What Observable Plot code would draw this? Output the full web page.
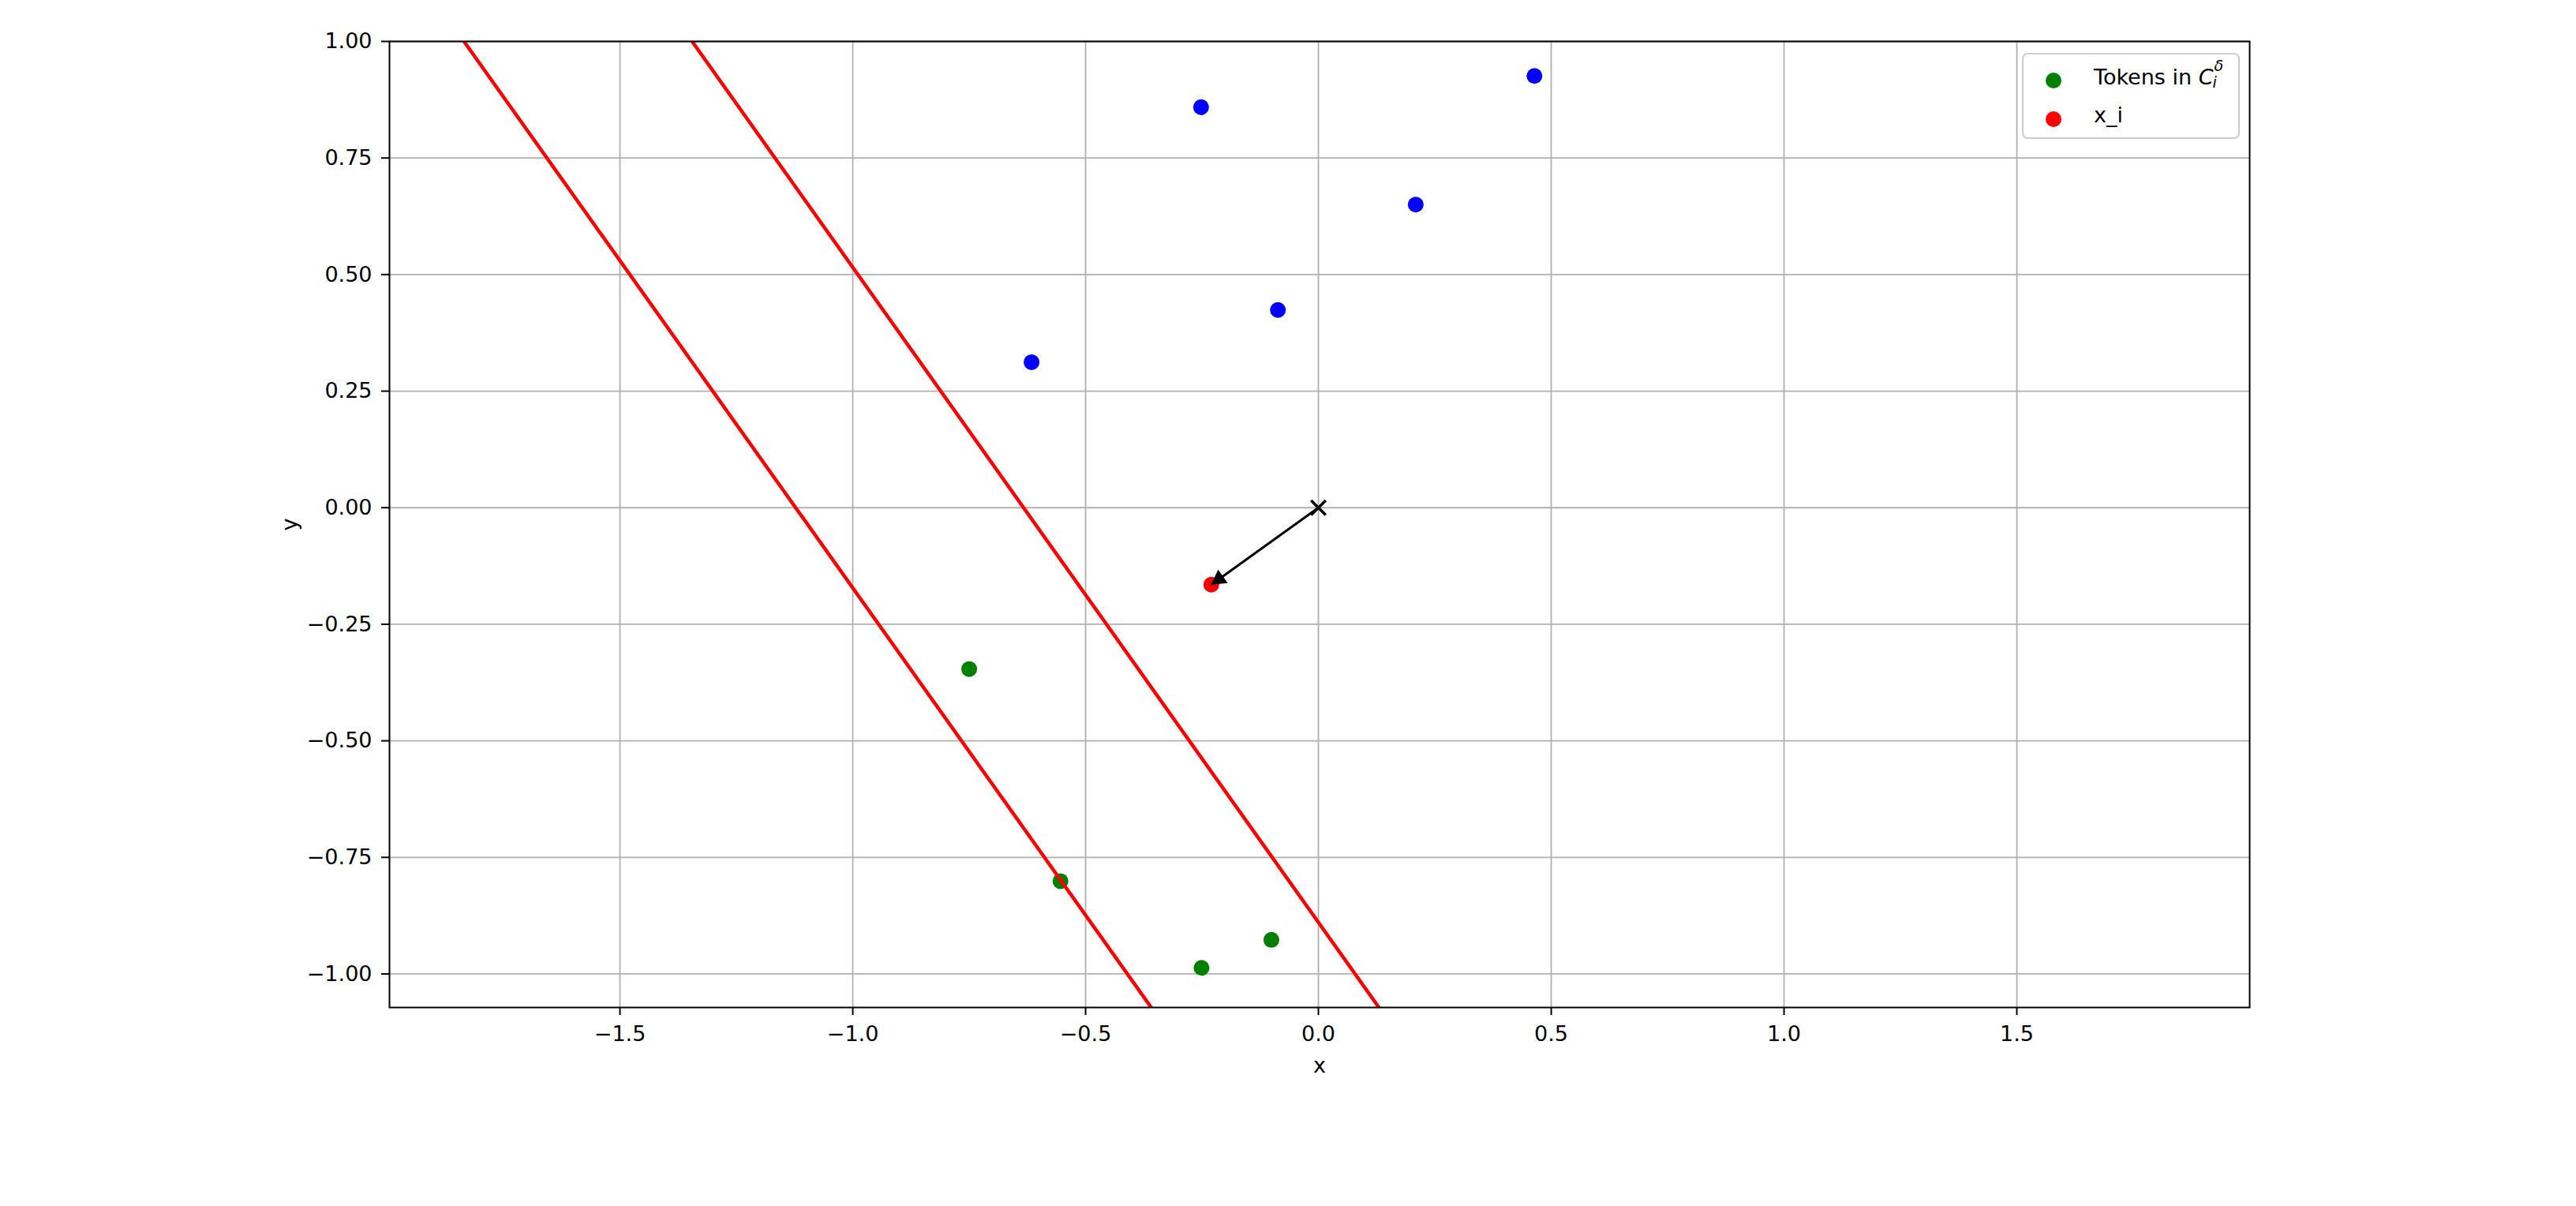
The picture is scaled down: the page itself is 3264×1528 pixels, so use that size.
<!DOCTYPE html>
<html>
<head>
<meta charset="utf-8">
<script src="https://cdn.jsdelivr.net/npm/d3@7"></script>
<script src="https://cdn.jsdelivr.net/npm/@observablehq/plot@0.6"></script>
<style>
  html, body { margin: 0; padding: 0; background: #ffffff; overflow: hidden; }
  #fig { position: relative; width: 3264px; height: 1528px; font-family: "DejaVu Sans", sans-serif; color: #000; }
  #fig svg { display: block; }
  #legend { position: absolute; left: 2562px; top: 67px; width: 276px; height: 109px; box-sizing: border-box;
            border: 2px solid #cccccc; border-radius: 7px; background: rgba(255,255,255,0.8);
            font-family: "DejaVu Sans", sans-serif; font-size: 27px; line-height: 1; }
  .sw { position: absolute; width: 20px; height: 20px; border-radius: 50%; left: 28px; }
  .lab { position: absolute; left: 89px; white-space: nowrap; }
  .ss { display: inline-block; position: relative; width: 16px; height: 1em; vertical-align: baseline; }
  .sup { position: absolute; left: 1px; top: -6px; font-size: 19px; font-style: italic; }
  .sub { position: absolute; left: -1px; top: 15px; font-size: 19px; font-style: italic; }
</style>
</head>
<body>
<div id="fig"></div>
<script>
// ---- data ----
const xTicks = [-1.5, -1.0, -0.5, 0.0, 0.5, 1.0, 1.5];
const yTicks = [-1.00, -0.75, -0.50, -0.25, 0.00, 0.25, 0.50, 0.75, 1.00];

const blueX = [-0.252, 0.464, 0.209, -0.087, -0.616];
const blueY = [0.859, 0.926, 0.650, 0.424, 0.312];

const greenX = [-0.750, -0.554, -0.251, -0.101];
const greenY = [-0.346, -0.801, -0.987, -0.927];

const xiX = [-0.230];
const xiY = [-0.165];

const originX = [0.0];
const originY = [0.0];

const boundaryId = ["b1", "b1", "b2", "b2"];
const boundaryX = [-1.835, -0.359, -1.345, 0.130];
const boundaryY = [1.0, -1.072, 1.0, -1.072];

const xDomain = [-1.995, 2.0];
const yDomain = [-1.072, 1.0];

const legendLabels = ["Tokens in", "x_i"];

// ---- tables for the library ----
const blue = blueX.map((x, i) => ({x, y: blueY[i]}));
const green = greenX.map((x, i) => ({x, y: greenY[i]}));
const xi = xiX.map((x, i) => ({x, y: xiY[i]}));
const origin = originX.map((x, i) => ({x, y: originY[i]}));
const boundary = boundaryX.map((x, i) => ({id: boundaryId[i], x, y: boundaryY[i]}));
const arrowData = [{x1: originX[0], y1: originY[0], x2: xiX[0], y2: xiY[0]}];
const theta = Math.atan2(xiX[0] - originX[0], xiY[0] - originY[0]) * 180 / Math.PI;
const tr = theta * Math.PI / 180;
const headBack = 12;

const chart = Plot.plot({
  width: 3264,
  height: 1528,
  marginLeft: 493,
  marginRight: 414,
  marginTop: 52,
  marginBottom: 252,
  x: {domain: xDomain},
  y: {domain: yDomain},
  style: {fontFamily: "DejaVu Sans, sans-serif", fontSize: "27px", color: "black", background: "white"},
  marks: [
    Plot.gridX(xTicks, {stroke: "#b0b0b0", strokeOpacity: 1, strokeWidth: 1.8}),
    Plot.gridY(yTicks, {stroke: "#b0b0b0", strokeOpacity: 1, strokeWidth: 1.8}),
    Plot.dot(blue, {x: "x", y: "y", r: 10, fill: "#0000ff"}),
    Plot.dot(green, {x: "x", y: "y", r: 10, fill: "#008000"}),
    Plot.dot(xi, {x: "x", y: "y", r: 10, fill: "#ff0000"}),
    Plot.line(boundary, {x: "x", y: "y", z: "id", stroke: "#ff0000", strokeWidth: 4.5, clip: true}),
    Plot.link(arrowData, {x1: "x1", y1: "y1", x2: "x2", y2: "y2", stroke: "black", strokeWidth: 3}),
    Plot.dot(arrowData, {x: "x2", y: "y2", symbol: "triangle", r: 7.8, fill: "black", stroke: "none",
      rotate: theta, dx: -headBack * Math.sin(tr), dy: headBack * Math.cos(tr)}),
    Plot.dot(origin, {x: "x", y: "y", symbol: "times", r: 8.5, stroke: "black", strokeWidth: 3.5}),
    Plot.frame({stroke: "black", strokeWidth: 2}),
    Plot.axisX({ticks: xTicks, tickFormat: d3.format(".1f"), tickSize: 10, tickPadding: 13, fontSize: 27,
      strokeWidth: 2, label: "x", labelAnchor: "center", labelArrow: "none", labelOffset: 82}),
    Plot.axisY({ticks: yTicks, tickFormat: d3.format(".2f"), tickSize: 10, tickPadding: 12, fontSize: 27,
      strokeWidth: 2, label: "y", labelAnchor: "center", labelArrow: "none", labelOffset: 137})
  ]
});

const fig = document.getElementById("fig");
fig.appendChild(chart);

const legend = document.createElement("div");
legend.id = "legend";
legend.innerHTML =
  `<span class="sw" style="top:23px;background:#008000"></span>` +
  `<span class="lab" style="top:11px">${legendLabels[0]} <i>C</i><span class="ss"><span class="sup">δ</span><span class="sub">i</span></span></span>` +
  `<span class="sw" style="top:72px;background:#ff0000"></span>` +
  `<span class="lab" style="top:63px">${legendLabels[1]}</span>`;
fig.appendChild(legend);
</script>
</body>
</html>
